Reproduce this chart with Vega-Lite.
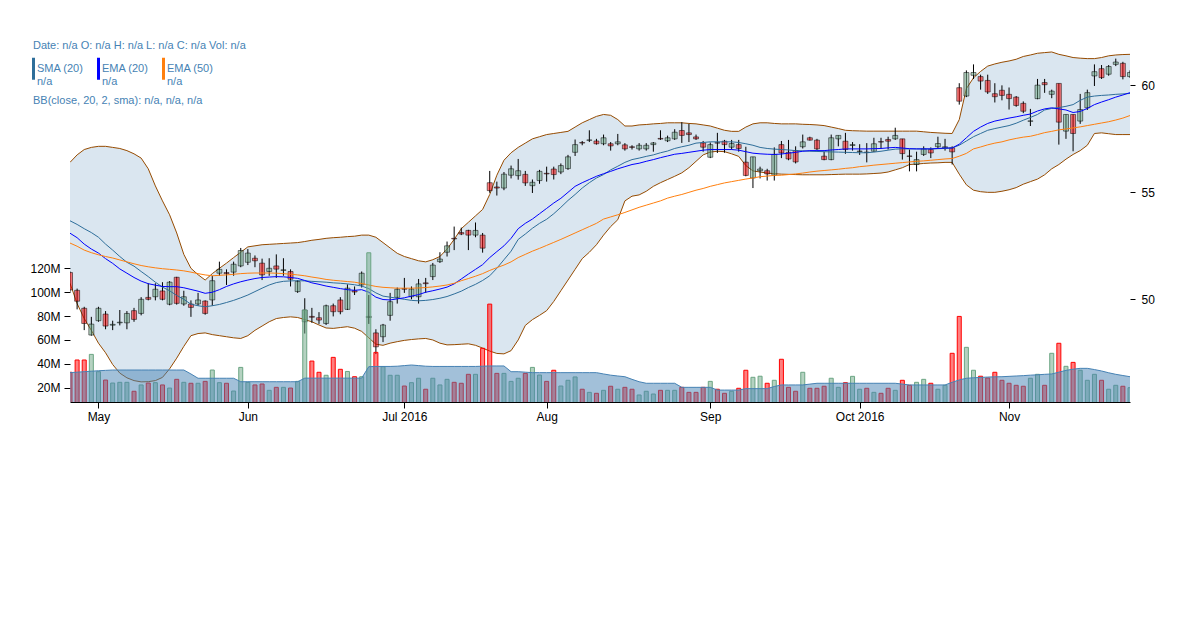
{
"$schema": "https://vega.github.io/schema/vega-lite/v6.json",
"width": 1060,
"height": 362,
"autosize": "none",
"padding": {"left": 70, "top": 40, "right": 70, "bottom": 228},
"background": "white",
"config": {"view": {"stroke": null}, "font": "Liberation Sans", "axis": {"grid": false, "labelFont": "Liberation Sans"}},
"title": {"text": "Date: n/a O: n/a H: n/a L: n/a C: n/a Vol: n/a", "subtitle": "BB(close, 20, 2, sma): n/a, n/a, n/a", "anchor": "start", "frame": "group", "orient": "top", "offset": 0, "dx": -37, "dy": 66, "baseline": "top", "font": "Liberation Sans", "fontSize": 11, "fontWeight": "normal", "color": "#4682B4", "subtitleFont": "Liberation Sans", "subtitleFontSize": 11, "subtitleColor": "#4682B4", "subtitlePadding": 44},
"data": {"values": [
{"d":"2016-04-26","o":51.25,"h":51.3,"l":50.35,"c":50.44,"v":32900000,"sma":53.67,"e20":53.09,"e50":52.63,"bu":56.4,"bl":50.75,"vs":32600000},
{"d":"2016-04-27","o":50.42,"h":50.5,"l":49.53,"c":49.91,"v":43200000,"sma":53.5,"e20":52.88,"e50":52.48,"bu":56.75,"bl":49.8,"vs":33000000},
{"d":"2016-04-28","o":49.58,"h":49.65,"l":48.56,"c":48.87,"v":43200000,"sma":53.3,"e20":52.58,"e50":52.3,"bu":57.0,"bl":49.1,"vs":33400000},
{"d":"2016-04-29","o":48.33,"h":49.18,"l":48.3,"c":48.84,"v":47900000,"sma":53.12,"e20":52.35,"e50":52.18,"bu":57.1,"bl":48.55,"vs":33800000},
{"d":"2016-05-02","o":49.0,"h":49.65,"l":48.95,"c":49.58,"v":33400000,"sma":52.9,"e20":52.16,"e50":52.08,"bu":57.15,"bl":47.95,"vs":34200000},
{"d":"2016-05-03","o":49.31,"h":49.45,"l":48.6,"c":48.75,"v":26400000,"sma":52.58,"e20":51.9,"e50":52.0,"bu":57.15,"bl":47.5,"vs":34500000},
{"d":"2016-05-04","o":48.79,"h":49.0,"l":48.56,"c":48.83,"v":23900000,"sma":52.3,"e20":51.68,"e50":51.93,"bu":57.1,"bl":46.95,"vs":34800000},
{"d":"2016-05-05","o":48.9,"h":49.5,"l":48.78,"c":48.93,"v":24500000,"sma":52.0,"e20":51.42,"e50":51.84,"bu":57.05,"bl":46.55,"vs":34800000},
{"d":"2016-05-06","o":48.9,"h":49.45,"l":48.6,"c":49.34,"v":24500000,"sma":51.73,"e20":51.22,"e50":51.75,"bu":56.95,"bl":46.33,"vs":34800000},
{"d":"2016-05-09","o":49.47,"h":49.6,"l":48.95,"c":49.06,"v":17000000,"sma":51.55,"e20":51.02,"e50":51.66,"bu":56.8,"bl":46.2,"vs":34800000},
{"d":"2016-05-10","o":49.34,"h":50.1,"l":49.25,"c":50.0,"v":22300000,"sma":51.3,"e20":50.85,"e50":51.58,"bu":56.6,"bl":46.14,"vs":34800000},
{"d":"2016-05-11","o":50.09,"h":50.75,"l":49.95,"c":50.0,"v":23900000,"sma":51.06,"e20":50.73,"e50":51.52,"bu":56.1,"bl":46.15,"vs":34800000},
{"d":"2016-05-12","o":50.12,"h":50.75,"l":49.95,"c":50.47,"v":24200000,"sma":50.8,"e20":50.66,"e50":51.47,"bu":55.3,"bl":46.2,"vs":34800000},
{"d":"2016-05-13","o":50.39,"h":50.8,"l":49.95,"c":50.0,"v":22300000,"sma":50.57,"e20":50.6,"e50":51.43,"bu":54.6,"bl":46.35,"vs":34800000},
{"d":"2016-05-16","o":49.77,"h":50.85,"l":49.72,"c":50.8,"v":19700000,"sma":50.4,"e20":50.59,"e50":51.4,"bu":53.95,"bl":46.75,"vs":34800000},
{"d":"2016-05-17","o":51.03,"h":51.05,"l":49.75,"c":49.81,"v":27000000,"sma":50.18,"e20":50.59,"e50":51.37,"bu":53.1,"bl":47.25,"vs":34800000},
{"d":"2016-05-18","o":49.78,"h":50.4,"l":49.7,"c":50.12,"v":24500000,"sma":50.0,"e20":50.54,"e50":51.33,"bu":52.1,"bl":47.8,"vs":34800000},
{"d":"2016-05-19","o":49.78,"h":49.95,"l":49.18,"c":49.62,"v":23700000,"sma":49.77,"e20":50.46,"e50":51.27,"bu":51.45,"bl":48.3,"vs":31500000},
{"d":"2016-05-20","o":49.78,"h":50.3,"l":49.7,"c":49.97,"v":23700000,"sma":49.7,"e20":50.38,"e50":51.2,"bu":51.15,"bl":48.4,"vs":27900000},
{"d":"2016-05-23","o":49.92,"h":49.95,"l":49.28,"c":49.34,"v":25300000,"sma":49.65,"e20":50.28,"e50":51.14,"bu":50.9,"bl":48.43,"vs":27900000},
{"d":"2016-05-24","o":49.97,"h":51.1,"l":49.7,"c":50.87,"v":34800000,"sma":49.7,"e20":50.33,"e50":51.1,"bu":51.2,"bl":48.35,"vs":27900000},
{"d":"2016-05-25","o":51.22,"h":51.76,"l":51.1,"c":51.4,"v":24200000,"sma":49.76,"e20":50.45,"e50":51.12,"bu":51.45,"bl":48.3,"vs":27900000},
{"d":"2016-05-26","o":51.25,"h":51.4,"l":50.67,"c":51.2,"v":23700000,"sma":49.85,"e20":50.6,"e50":51.14,"bu":51.69,"bl":48.25,"vs":27900000},
{"d":"2016-05-27","o":51.27,"h":51.76,"l":51.1,"c":51.64,"v":17200000,"sma":49.95,"e20":50.72,"e50":51.17,"bu":51.95,"bl":48.2,"vs":27900000},
{"d":"2016-05-31","o":51.56,"h":52.4,"l":51.5,"c":52.28,"v":37000000,"sma":50.07,"e20":50.82,"e50":51.2,"bu":52.2,"bl":48.17,"vs":25000000},
{"d":"2016-06-01","o":51.73,"h":52.35,"l":51.6,"c":52.16,"v":24500000,"sma":50.2,"e20":50.9,"e50":51.22,"bu":52.45,"bl":48.3,"vs":25000000},
{"d":"2016-06-02","o":51.92,"h":52.05,"l":51.5,"c":51.8,"v":22300000,"sma":50.36,"e20":50.97,"e50":51.23,"bu":52.5,"bl":48.55,"vs":25000000},
{"d":"2016-06-03","o":51.69,"h":51.9,"l":50.9,"c":51.14,"v":23100000,"sma":50.52,"e20":51.02,"e50":51.23,"bu":52.55,"bl":48.75,"vs":25000000},
{"d":"2016-06-06","o":51.3,"h":51.92,"l":51.1,"c":51.45,"v":17800000,"sma":50.67,"e20":51.04,"e50":51.23,"bu":52.57,"bl":48.95,"vs":25000000},
{"d":"2016-06-07","o":51.56,"h":52.1,"l":51.0,"c":51.41,"v":20300000,"sma":50.78,"e20":51.06,"e50":51.22,"bu":52.59,"bl":49.1,"vs":25000000},
{"d":"2016-06-08","o":51.35,"h":51.92,"l":51.1,"c":51.38,"v":20300000,"sma":50.84,"e20":51.05,"e50":51.2,"bu":52.61,"bl":49.15,"vs":25000000},
{"d":"2016-06-09","o":51.3,"h":51.4,"l":50.6,"c":50.94,"v":19700000,"sma":50.86,"e20":51.02,"e50":51.17,"bu":52.63,"bl":49.18,"vs":25000000},
{"d":"2016-06-10","o":50.36,"h":50.9,"l":50.3,"c":50.83,"v":25300000,"sma":50.87,"e20":50.98,"e50":51.14,"bu":52.65,"bl":49.15,"vs":25000000},
{"d":"2016-06-13","o":48.95,"h":50.05,"l":48.4,"c":49.5,"v":85000000,"sma":50.86,"e20":50.88,"e50":51.1,"bu":52.7,"bl":49.05,"vs":28000000},
{"d":"2016-06-14","o":49.2,"h":49.6,"l":48.9,"c":49.16,"v":42300000,"sma":50.84,"e20":50.77,"e50":51.04,"bu":52.76,"bl":48.95,"vs":28000000},
{"d":"2016-06-15","o":49.14,"h":49.4,"l":48.85,"c":49.03,"v":32900000,"sma":50.82,"e20":50.7,"e50":50.99,"bu":52.8,"bl":48.8,"vs":28000000},
{"d":"2016-06-16","o":48.87,"h":49.75,"l":48.8,"c":49.7,"v":30400000,"sma":50.8,"e20":50.62,"e50":50.93,"bu":52.85,"bl":48.66,"vs":28000000},
{"d":"2016-06-17","o":49.7,"h":49.8,"l":49.2,"c":49.42,"v":45400000,"sma":50.77,"e20":50.56,"e50":50.89,"bu":52.88,"bl":48.64,"vs":28000000},
{"d":"2016-06-20","o":49.97,"h":50.1,"l":49.3,"c":49.42,"v":35400000,"sma":50.75,"e20":50.5,"e50":50.86,"bu":52.9,"bl":48.68,"vs":28000000},
{"d":"2016-06-21","o":49.53,"h":50.7,"l":49.5,"c":50.52,"v":33600000,"sma":50.72,"e20":50.45,"e50":50.83,"bu":52.93,"bl":48.72,"vs":28000000},
{"d":"2016-06-22","o":50.4,"h":50.6,"l":50.2,"c":50.34,"v":29200000,"sma":50.68,"e20":50.42,"e50":50.8,"bu":52.95,"bl":48.65,"vs":28000000},
{"d":"2016-06-23","o":50.67,"h":51.3,"l":50.55,"c":51.22,"v":29200000,"sma":50.62,"e20":50.45,"e50":50.74,"bu":53.0,"bl":48.5,"vs":28000000},
{"d":"2016-06-24","o":49.15,"h":50.2,"l":48.85,"c":49.2,"v":133000000,"sma":50.5,"e20":50.33,"e50":50.67,"bu":53.0,"bl":48.2,"vs":37600000},
{"d":"2016-06-27","o":48.43,"h":48.6,"l":47.44,"c":47.78,"v":49600000,"sma":50.3,"e20":50.1,"e50":50.6,"bu":52.9,"bl":47.9,"vs":37800000},
{"d":"2016-06-28","o":48.25,"h":48.85,"l":48.0,"c":48.8,"v":37600000,"sma":50.15,"e20":49.99,"e50":50.56,"bu":52.65,"bl":47.85,"vs":37800000},
{"d":"2016-06-29","o":49.25,"h":50.3,"l":49.0,"c":49.89,"v":30400000,"sma":50.1,"e20":49.97,"e50":50.54,"bu":52.4,"bl":47.95,"vs":37800000},
{"d":"2016-06-30","o":50.09,"h":50.55,"l":49.8,"c":50.47,"v":30400000,"sma":50.05,"e20":50.02,"e50":50.52,"bu":52.15,"bl":48.02,"vs":38000000},
{"d":"2016-07-01","o":50.5,"h":51.0,"l":50.3,"c":50.47,"v":21400000,"sma":50.0,"e20":50.07,"e50":50.52,"bu":52.0,"bl":48.08,"vs":38500000},
{"d":"2016-07-05","o":50.12,"h":50.6,"l":50.0,"c":50.48,"v":24200000,"sma":49.95,"e20":50.15,"e50":50.52,"bu":51.9,"bl":48.12,"vs":39000000},
{"d":"2016-07-06","o":50.12,"h":50.95,"l":49.8,"c":50.72,"v":27900000,"sma":49.93,"e20":50.22,"e50":50.53,"bu":51.8,"bl":48.15,"vs":38500000},
{"d":"2016-07-07","o":50.77,"h":51.0,"l":50.3,"c":50.73,"v":18700000,"sma":49.95,"e20":50.33,"e50":50.55,"bu":51.75,"bl":48.17,"vs":38000000},
{"d":"2016-07-08","o":51.06,"h":51.7,"l":50.9,"c":51.6,"v":27900000,"sma":49.99,"e20":50.4,"e50":50.58,"bu":51.85,"bl":48.1,"vs":37800000},
{"d":"2016-07-11","o":51.76,"h":52.2,"l":51.7,"c":51.88,"v":22300000,"sma":50.05,"e20":50.48,"e50":50.62,"bu":52.0,"bl":47.95,"vs":37800000},
{"d":"2016-07-12","o":52.2,"h":52.7,"l":52.0,"c":52.5,"v":27000000,"sma":50.13,"e20":50.57,"e50":50.67,"bu":52.35,"bl":47.87,"vs":37800000},
{"d":"2016-07-13","o":52.85,"h":53.4,"l":52.3,"c":52.82,"v":24500000,"sma":50.25,"e20":50.72,"e50":50.75,"bu":52.8,"bl":47.88,"vs":37800000},
{"d":"2016-07-14","o":53.12,"h":53.35,"l":53.0,"c":53.05,"v":23700000,"sma":50.38,"e20":50.95,"e50":50.87,"bu":53.3,"bl":47.9,"vs":37800000},
{"d":"2016-07-15","o":53.22,"h":53.25,"l":52.3,"c":53.0,"v":31200000,"sma":50.55,"e20":51.18,"e50":50.97,"bu":53.6,"bl":47.92,"vs":37800000},
{"d":"2016-07-18","o":53.0,"h":53.59,"l":52.9,"c":53.22,"v":31200000,"sma":50.7,"e20":51.4,"e50":51.08,"bu":53.9,"bl":47.85,"vs":37800000},
{"d":"2016-07-19","o":53.0,"h":53.1,"l":52.18,"c":52.39,"v":53000000,"sma":50.88,"e20":51.62,"e50":51.2,"bu":54.2,"bl":47.72,"vs":38000000},
{"d":"2016-07-20","o":55.45,"h":56.0,"l":54.98,"c":55.08,"v":90000000,"sma":51.1,"e20":51.95,"e50":51.35,"bu":54.9,"bl":47.58,"vs":38200000},
{"d":"2016-07-21","o":55.25,"h":55.5,"l":54.85,"c":55.2,"v":32000000,"sma":51.45,"e20":52.23,"e50":51.48,"bu":55.8,"bl":47.47,"vs":38200000},
{"d":"2016-07-22","o":55.2,"h":55.95,"l":55.1,"c":55.85,"v":32000000,"sma":51.85,"e20":52.5,"e50":51.6,"bu":56.5,"bl":47.45,"vs":38200000},
{"d":"2016-07-25","o":55.8,"h":56.25,"l":55.65,"c":56.1,"v":25300000,"sma":52.25,"e20":52.85,"e50":51.75,"bu":56.85,"bl":47.6,"vs":33400000},
{"d":"2016-07-26","o":55.78,"h":56.56,"l":55.59,"c":56.01,"v":27900000,"sma":52.8,"e20":53.3,"e50":51.95,"bu":57.1,"bl":48.1,"vs":33400000},
{"d":"2016-07-27","o":55.84,"h":56.0,"l":55.3,"c":55.44,"v":32000000,"sma":53.05,"e20":53.55,"e50":52.1,"bu":57.3,"bl":48.78,"vs":33000000},
{"d":"2016-07-28","o":55.31,"h":55.6,"l":54.97,"c":55.47,"v":37000000,"sma":53.32,"e20":53.75,"e50":52.25,"bu":57.5,"bl":49.05,"vs":32600000},
{"d":"2016-07-29","o":55.55,"h":56.05,"l":55.4,"c":55.98,"v":30600000,"sma":53.55,"e20":54.0,"e50":52.38,"bu":57.6,"bl":49.25,"vs":32600000},
{"d":"2016-08-01","o":55.89,"h":56.2,"l":55.5,"c":55.86,"v":25300000,"sma":53.74,"e20":54.25,"e50":52.52,"bu":57.7,"bl":49.47,"vs":32600000},
{"d":"2016-08-02","o":56.09,"h":56.2,"l":55.6,"c":55.83,"v":34600000,"sma":54.0,"e20":54.5,"e50":52.66,"bu":57.75,"bl":49.9,"vs":32600000},
{"d":"2016-08-03","o":55.95,"h":56.35,"l":55.85,"c":56.25,"v":21400000,"sma":54.3,"e20":54.72,"e50":52.8,"bu":57.8,"bl":50.4,"vs":32600000},
{"d":"2016-08-04","o":56.11,"h":56.75,"l":56.05,"c":56.66,"v":26200000,"sma":54.62,"e20":55.0,"e50":52.95,"bu":57.85,"bl":50.9,"vs":32600000},
{"d":"2016-08-05","o":56.87,"h":57.47,"l":56.7,"c":57.23,"v":29000000,"sma":54.9,"e20":55.28,"e50":53.1,"bu":58.05,"bl":51.4,"vs":32600000},
{"d":"2016-08-08","o":57.33,"h":57.4,"l":57.2,"c":57.3,"v":18700000,"sma":55.2,"e20":55.45,"e50":53.25,"bu":58.25,"bl":51.9,"vs":32600000},
{"d":"2016-08-09","o":57.43,"h":57.9,"l":57.35,"c":57.45,"v":16100000,"sma":55.45,"e20":55.6,"e50":53.4,"bu":58.4,"bl":52.2,"vs":32600000},
{"d":"2016-08-10","o":57.4,"h":57.5,"l":57.23,"c":57.27,"v":15300000,"sma":55.67,"e20":55.75,"e50":53.55,"bu":58.55,"bl":52.55,"vs":32600000},
{"d":"2016-08-11","o":57.27,"h":57.7,"l":57.2,"c":57.55,"v":17800000,"sma":55.83,"e20":55.87,"e50":53.75,"bu":58.64,"bl":53.0,"vs":31500000},
{"d":"2016-08-12","o":57.27,"h":57.35,"l":56.95,"c":57.17,"v":21200000,"sma":56.05,"e20":55.98,"e50":53.85,"bu":58.6,"bl":53.4,"vs":30500000},
{"d":"2016-08-15","o":57.27,"h":57.73,"l":57.2,"c":57.36,"v":18700000,"sma":56.22,"e20":56.1,"e50":53.95,"bu":58.4,"bl":53.72,"vs":29800000},
{"d":"2016-08-16","o":57.22,"h":57.3,"l":56.95,"c":57.03,"v":20300000,"sma":56.4,"e20":56.2,"e50":54.06,"bu":58.1,"bl":54.6,"vs":29200000},
{"d":"2016-08-17","o":57.13,"h":57.2,"l":57.0,"c":57.1,"v":18700000,"sma":56.53,"e20":56.3,"e50":54.18,"bu":58.1,"bl":54.82,"vs":27000000},
{"d":"2016-08-18","o":57.03,"h":57.3,"l":56.95,"c":57.2,"v":13900000,"sma":56.6,"e20":56.36,"e50":54.3,"bu":58.15,"bl":54.88,"vs":25000000},
{"d":"2016-08-19","o":57.03,"h":57.3,"l":56.95,"c":57.2,"v":17000000,"sma":56.68,"e20":56.45,"e50":54.4,"bu":58.17,"bl":55.05,"vs":23700000},
{"d":"2016-08-22","o":57.23,"h":57.35,"l":56.9,"c":57.31,"v":14700000,"sma":56.75,"e20":56.53,"e50":54.5,"bu":58.2,"bl":55.28,"vs":23700000},
{"d":"2016-08-23","o":57.52,"h":57.9,"l":57.45,"c":57.49,"v":17800000,"sma":56.85,"e20":56.62,"e50":54.6,"bu":58.22,"bl":55.45,"vs":23700000},
{"d":"2016-08-24","o":57.41,"h":57.65,"l":57.35,"c":57.55,"v":17800000,"sma":56.93,"e20":56.7,"e50":54.73,"bu":58.25,"bl":55.6,"vs":23700000},
{"d":"2016-08-25","o":57.5,"h":57.95,"l":57.45,"c":57.81,"v":17800000,"sma":57.05,"e20":56.78,"e50":54.82,"bu":58.25,"bl":55.75,"vs":23700000},
{"d":"2016-08-26","o":57.89,"h":58.28,"l":57.31,"c":57.66,"v":20300000,"sma":57.13,"e20":56.82,"e50":54.9,"bu":58.25,"bl":55.91,"vs":20300000},
{"d":"2016-08-29","o":57.78,"h":58.2,"l":57.35,"c":57.7,"v":16100000,"sma":57.2,"e20":56.87,"e50":55.0,"bu":58.22,"bl":56.15,"vs":20300000},
{"d":"2016-08-30","o":57.59,"h":57.7,"l":57.45,"c":57.5,"v":16100000,"sma":57.3,"e20":56.92,"e50":55.1,"bu":58.2,"bl":56.45,"vs":20300000},
{"d":"2016-08-31","o":57.31,"h":57.4,"l":56.9,"c":57.11,"v":20300000,"sma":57.33,"e20":56.97,"e50":55.18,"bu":58.15,"bl":56.75,"vs":20300000},
{"d":"2016-09-01","o":56.64,"h":57.33,"l":56.6,"c":57.23,"v":25300000,"sma":57.36,"e20":57.0,"e50":55.28,"bu":58.1,"bl":56.88,"vs":20300000},
{"d":"2016-09-02","o":57.32,"h":57.78,"l":56.84,"c":57.3,"v":18700000,"sma":57.36,"e20":57.0,"e50":55.36,"bu":58.0,"bl":56.92,"vs":18000000},
{"d":"2016-09-06","o":57.39,"h":57.45,"l":56.85,"c":57.23,"v":15300000,"sma":57.36,"e20":57.0,"e50":55.44,"bu":57.9,"bl":56.9,"vs":18000000},
{"d":"2016-09-07","o":57.11,"h":57.45,"l":57.0,"c":57.28,"v":17000000,"sma":57.36,"e20":57.0,"e50":55.5,"bu":57.85,"bl":56.8,"vs":18000000},
{"d":"2016-09-08","o":57.23,"h":57.45,"l":56.9,"c":57.05,"v":19500000,"sma":57.33,"e20":56.97,"e50":55.56,"bu":57.85,"bl":56.68,"vs":18000000},
{"d":"2016-09-09","o":56.41,"h":57.13,"l":55.75,"c":55.79,"v":34600000,"sma":57.27,"e20":56.9,"e50":55.62,"bu":58.05,"bl":56.25,"vs":19200000},
{"d":"2016-09-12","o":55.67,"h":56.66,"l":55.2,"c":56.66,"v":28700000,"sma":57.2,"e20":56.83,"e50":55.67,"bu":58.2,"bl":56.0,"vs":19200000},
{"d":"2016-09-13","o":56.01,"h":56.2,"l":55.65,"c":56.09,"v":29600000,"sma":57.1,"e20":56.8,"e50":55.73,"bu":58.25,"bl":55.95,"vs":19200000},
{"d":"2016-09-14","o":56.01,"h":56.1,"l":55.55,"c":55.86,"v":23700000,"sma":57.05,"e20":56.78,"e50":55.76,"bu":58.25,"bl":55.9,"vs":19200000},
{"d":"2016-09-15","o":55.8,"h":57.1,"l":55.55,"c":56.77,"v":26200000,"sma":57.02,"e20":56.77,"e50":55.79,"bu":58.22,"bl":55.87,"vs":21000000},
{"d":"2016-09-16","o":57.23,"h":57.4,"l":56.6,"c":56.84,"v":43800000,"sma":57.0,"e20":56.79,"e50":55.8,"bu":58.2,"bl":55.85,"vs":22300000},
{"d":"2016-09-19","o":56.87,"h":57.45,"l":56.5,"c":56.56,"v":20300000,"sma":56.98,"e20":56.83,"e50":55.83,"bu":58.2,"bl":55.84,"vs":22300000},
{"d":"2016-09-20","o":56.95,"h":57.15,"l":56.35,"c":56.42,"v":17000000,"sma":56.95,"e20":56.87,"e50":55.86,"bu":58.2,"bl":55.83,"vs":22300000},
{"d":"2016-09-21","o":57.13,"h":57.7,"l":57.05,"c":57.36,"v":32900000,"sma":56.94,"e20":56.92,"e50":55.9,"bu":58.18,"bl":55.82,"vs":22300000},
{"d":"2016-09-22","o":57.55,"h":57.6,"l":57.42,"c":57.44,"v":19500000,"sma":56.92,"e20":56.95,"e50":55.95,"bu":58.17,"bl":55.82,"vs":23000000},
{"d":"2016-09-23","o":57.44,"h":57.5,"l":56.98,"c":57.03,"v":19500000,"sma":56.91,"e20":56.95,"e50":55.99,"bu":58.15,"bl":55.82,"vs":23700000},
{"d":"2016-09-26","o":56.69,"h":56.9,"l":56.5,"c":56.53,"v":21200000,"sma":56.9,"e20":56.95,"e50":56.02,"bu":58.12,"bl":55.82,"vs":23700000},
{"d":"2016-09-27","o":56.53,"h":57.7,"l":56.5,"c":57.55,"v":27900000,"sma":56.89,"e20":56.98,"e50":56.05,"bu":58.05,"bl":55.83,"vs":23700000},
{"d":"2016-09-28","o":57.5,"h":57.66,"l":57.15,"c":57.66,"v":20300000,"sma":56.88,"e20":57.0,"e50":56.08,"bu":57.98,"bl":55.84,"vs":23700000},
{"d":"2016-09-29","o":57.39,"h":57.78,"l":56.8,"c":57.0,"v":24200000,"sma":56.87,"e20":57.03,"e50":56.12,"bu":57.9,"bl":55.85,"vs":23700000},
{"d":"2016-09-30","o":57.19,"h":57.35,"l":56.95,"c":57.23,"v":29500000,"sma":56.86,"e20":57.03,"e50":56.15,"bu":57.88,"bl":55.85,"vs":23700000},
{"d":"2016-10-03","o":56.91,"h":57.25,"l":56.75,"c":56.93,"v":18700000,"sma":56.85,"e20":57.03,"e50":56.2,"bu":57.87,"bl":55.85,"vs":23700000},
{"d":"2016-10-04","o":56.88,"h":57.3,"l":56.4,"c":56.86,"v":19500000,"sma":56.85,"e20":57.03,"e50":56.23,"bu":57.86,"bl":55.86,"vs":23700000},
{"d":"2016-10-05","o":56.92,"h":57.55,"l":56.9,"c":57.27,"v":16100000,"sma":56.88,"e20":57.04,"e50":56.27,"bu":57.86,"bl":55.88,"vs":23700000},
{"d":"2016-10-06","o":57.37,"h":57.55,"l":57.05,"c":57.35,"v":15300000,"sma":56.92,"e20":57.05,"e50":56.3,"bu":57.86,"bl":55.9,"vs":23700000},
{"d":"2016-10-07","o":57.47,"h":57.6,"l":57.0,"c":57.39,"v":19500000,"sma":56.97,"e20":57.08,"e50":56.33,"bu":57.86,"bl":55.95,"vs":23700000},
{"d":"2016-10-10","o":57.5,"h":58.02,"l":57.45,"c":57.66,"v":17800000,"sma":57.02,"e20":57.1,"e50":56.36,"bu":57.86,"bl":56.05,"vs":23700000},
{"d":"2016-10-11","o":57.5,"h":57.5,"l":56.53,"c":56.81,"v":26200000,"sma":57.03,"e20":57.07,"e50":56.39,"bu":57.86,"bl":56.15,"vs":23000000},
{"d":"2016-10-12","o":56.7,"h":57.0,"l":55.98,"c":56.68,"v":22000000,"sma":57.03,"e20":57.04,"e50":56.42,"bu":57.86,"bl":56.3,"vs":22300000},
{"d":"2016-10-13","o":56.3,"h":56.9,"l":55.98,"c":56.53,"v":24500000,"sma":57.03,"e20":57.03,"e50":56.45,"bu":57.86,"bl":56.32,"vs":22300000},
{"d":"2016-10-14","o":56.77,"h":57.15,"l":56.7,"c":57.03,"v":27000000,"sma":57.03,"e20":57.03,"e50":56.47,"bu":57.83,"bl":56.35,"vs":22300000},
{"d":"2016-10-17","o":57.0,"h":57.1,"l":56.6,"c":56.84,"v":23700000,"sma":57.03,"e20":57.03,"e50":56.5,"bu":57.8,"bl":56.37,"vs":22300000},
{"d":"2016-10-18","o":57.13,"h":57.6,"l":57.05,"c":57.28,"v":18700000,"sma":57.04,"e20":57.05,"e50":56.53,"bu":57.78,"bl":56.38,"vs":22300000},
{"d":"2016-10-19","o":57.08,"h":57.5,"l":56.95,"c":57.13,"v":22000000,"sma":57.05,"e20":57.07,"e50":56.56,"bu":57.76,"bl":56.4,"vs":22300000},
{"d":"2016-10-20","o":57.08,"h":57.15,"l":56.3,"c":56.89,"v":48800000,"sma":57.08,"e20":57.07,"e50":56.58,"bu":57.75,"bl":56.4,"vs":24500000},
{"d":"2016-10-21","o":59.89,"h":60.1,"l":59.1,"c":59.26,"v":79700000,"sma":57.2,"e20":57.25,"e50":56.69,"bu":58.4,"bl":55.85,"vs":26500000},
{"d":"2016-10-24","o":59.5,"h":60.7,"l":59.45,"c":60.6,"v":53800000,"sma":57.4,"e20":57.55,"e50":56.82,"bu":59.85,"bl":55.35,"vs":27900000},
{"d":"2016-10-25","o":60.47,"h":60.98,"l":60.3,"c":60.6,"v":34600000,"sma":57.6,"e20":57.85,"e50":57.03,"bu":60.35,"bl":55.1,"vs":28300000},
{"d":"2016-10-26","o":60.41,"h":60.5,"l":59.8,"c":60.2,"v":29600000,"sma":57.75,"e20":58.05,"e50":57.12,"bu":60.65,"bl":55.03,"vs":28600000},
{"d":"2016-10-27","o":60.23,"h":60.5,"l":59.6,"c":59.69,"v":28100000,"sma":57.9,"e20":58.22,"e50":57.22,"bu":60.9,"bl":55.0,"vs":28900000},
{"d":"2016-10-28","o":59.61,"h":60.1,"l":59.2,"c":59.47,"v":32900000,"sma":57.98,"e20":58.33,"e50":57.3,"bu":61.0,"bl":55.0,"vs":29100000},
{"d":"2016-10-31","o":59.77,"h":60.0,"l":59.3,"c":59.53,"v":26200000,"sma":58.05,"e20":58.4,"e50":57.36,"bu":61.08,"bl":55.05,"vs":29200000},
{"d":"2016-11-01","o":59.58,"h":59.9,"l":58.87,"c":59.38,"v":23700000,"sma":58.12,"e20":58.47,"e50":57.45,"bu":61.14,"bl":55.12,"vs":29500000},
{"d":"2016-11-02","o":59.45,"h":59.5,"l":59.0,"c":59.06,"v":22000000,"sma":58.23,"e20":58.53,"e50":57.52,"bu":61.22,"bl":55.22,"vs":29800000},
{"d":"2016-11-03","o":59.16,"h":59.25,"l":58.7,"c":58.79,"v":21200000,"sma":58.37,"e20":58.6,"e50":57.58,"bu":61.35,"bl":55.38,"vs":30100000},
{"d":"2016-11-04","o":58.32,"h":58.9,"l":58.1,"c":58.34,"v":27900000,"sma":58.5,"e20":58.66,"e50":57.62,"bu":61.42,"bl":55.5,"vs":30500000},
{"d":"2016-11-07","o":59.38,"h":60.3,"l":59.35,"c":60.01,"v":31200000,"sma":58.64,"e20":58.8,"e50":57.7,"bu":61.5,"bl":55.62,"vs":30800000},
{"d":"2016-11-08","o":60.13,"h":60.3,"l":59.65,"c":60.03,"v":22000000,"sma":58.85,"e20":58.9,"e50":57.79,"bu":61.53,"bl":55.82,"vs":31200000},
{"d":"2016-11-09","o":59.58,"h":59.8,"l":59.4,"c":59.73,"v":48800000,"sma":58.92,"e20":58.95,"e50":57.85,"bu":61.56,"bl":56.1,"vs":31500000},
{"d":"2016-11-10","o":60.09,"h":60.09,"l":57.23,"c":58.28,"v":57200000,"sma":58.96,"e20":58.9,"e50":57.92,"bu":61.45,"bl":56.3,"vs":33000000},
{"d":"2016-11-11","o":57.86,"h":58.64,"l":57.5,"c":58.64,"v":37900000,"sma":59.02,"e20":58.85,"e50":57.96,"bu":61.38,"bl":56.55,"vs":34500000},
{"d":"2016-11-14","o":58.64,"h":58.64,"l":56.92,"c":57.75,"v":41200000,"sma":59.1,"e20":58.73,"e50":58.01,"bu":61.3,"bl":56.77,"vs":35500000},
{"d":"2016-11-15","o":58.33,"h":59.6,"l":58.2,"c":58.87,"v":34600000,"sma":59.3,"e20":58.78,"e50":58.06,"bu":61.27,"bl":56.95,"vs":36200000},
{"d":"2016-11-16","o":58.95,"h":59.8,"l":58.85,"c":59.66,"v":26200000,"sma":59.45,"e20":58.92,"e50":58.12,"bu":61.25,"bl":57.2,"vs":36200000},
{"d":"2016-11-17","o":60.44,"h":60.98,"l":59.97,"c":60.64,"v":31200000,"sma":59.5,"e20":59.1,"e50":58.18,"bu":61.25,"bl":57.75,"vs":35200000},
{"d":"2016-11-18","o":60.78,"h":60.95,"l":60.3,"c":60.36,"v":26200000,"sma":59.53,"e20":59.22,"e50":58.24,"bu":61.3,"bl":57.78,"vs":34000000},
{"d":"2016-11-21","o":60.52,"h":60.95,"l":60.45,"c":60.88,"v":18700000,"sma":59.55,"e20":59.33,"e50":58.3,"bu":61.38,"bl":57.74,"vs":32500000},
{"d":"2016-11-22","o":60.98,"h":61.25,"l":60.9,"c":61.09,"v":22000000,"sma":59.58,"e20":59.45,"e50":58.38,"bu":61.42,"bl":57.7,"vs":31200000},
{"d":"2016-11-23","o":61.03,"h":61.1,"l":60.28,"c":60.41,"v":21200000,"sma":59.6,"e20":59.55,"e50":58.47,"bu":61.44,"bl":57.7,"vs":30200000},
{"d":"2016-11-25","o":60.41,"h":60.7,"l":60.35,"c":60.6,"v":20000000,"sma":59.62,"e20":59.66,"e50":58.59,"bu":61.45,"bl":57.7,"vs":29200000}
]},
"encoding": {
  "x": {"field": "d", "type": "ordinal", "scale": {"type": "point", "padding": 0},
        "axis": {"title": null, "values": ["2016-05-02","2016-06-01","2016-07-01","2016-08-01","2016-09-01","2016-10-03","2016-11-01"],
                 "labelExpr": "datum.value == '2016-05-02' ? 'May' : datum.value == '2016-06-01' ? 'Jun' : datum.value == '2016-07-01' ? 'Jul 2016' : datum.value == '2016-08-01' ? 'Aug' : datum.value == '2016-09-01' ? 'Sep' : datum.value == '2016-10-03' ? 'Oct 2016' : 'Nov'",
                 "labelAngle": 0, "labelFontSize": 12, "labelColor": "#000000", "labelPadding": 3, "tickSize": 6, "tickColor": "#000000", "domainColor": "#000000", "labelFont": "Liberation Sans"}}
},
"layer": [
    {"mark": {"type": "area", "fill": "#4682B4", "fillOpacity": 0.2, "clip": true},
     "encoding": {"y": {"field": "bl", "type": "quantitative", "scale": {"domain": [45.2, 62.12], "nice": false, "zero": false},
                        "axis": {"orient": "right", "title": null, "values": [50, 55, 60], "domain": false, "tickSize": 5, "tickColor": "#000000", "labelColor": "#000000", "labelFontSize": 12, "labelPadding": 6, "labelFont": "Liberation Sans"}},
                  "y2": {"field": "bu"}}},
    {"mark": {"type": "line", "stroke": "#964B00", "strokeWidth": 1, "clip": true},
     "encoding": {"y": {"field": "bu", "type": "quantitative", "scale": {"domain": [45.2, 62.12], "nice": false, "zero": false}, "axis": null}}},
    {"mark": {"type": "line", "stroke": "#964B00", "strokeWidth": 1, "clip": true},
     "encoding": {"y": {"field": "bl", "type": "quantitative", "scale": {"domain": [45.2, 62.12], "nice": false, "zero": false}, "axis": null}}},
    {"mark": {"type": "rule", "stroke": "#000000", "strokeWidth": 1, "clip": true},
     "encoding": {"y": {"field": "l", "type": "quantitative", "scale": {"domain": [45.2, 62.12], "nice": false, "zero": false}, "axis": null},
                  "y2": {"field": "h"}}},
    {"mark": {"type": "bar", "width": 5, "stroke": "#000000", "strokeOpacity": 0.5, "strokeWidth": 1, "fillOpacity": 0.5, "clip": true},
     "encoding": {"y": {"field": "o", "type": "quantitative", "scale": {"domain": [45.2, 62.12], "nice": false, "zero": false}, "axis": null},
                  "y2": {"field": "c"},
                  "fill": {"condition": {"test": "datum.c > datum.o", "value": "#6BA583"}, "value": "#FF0000"}}},
    {"transform": [{"fold": ["sma", "e20", "e50"], "as": ["k", "val"]}],
     "mark": {"type": "line", "strokeWidth": 1, "clip": true},
     "encoding": {"y": {"field": "val", "type": "quantitative", "scale": {"domain": [45.2, 62.12], "nice": false, "zero": false}, "axis": null},
                  "color": {"field": "k", "type": "nominal",
                            "scale": {"domain": ["sma", "e20", "e50"], "range": ["#2E6E9A", "#0000FF", "#FF7F0E"]},
                            "legend": {"orient": "none", "legendX": -43, "legendY": 22, "direction": "horizontal", "title": null,
                                       "symbolType": "M0,-2.2V2.2", "symbolSize": 100, "symbolStrokeWidth": 3,
                                       "labelFont": "Liberation Sans", "labelFontSize": 11, "labelColor": "#4682B4", "labelOffset": -3, "columnPadding": 8, "labelLimit": 0,
                                       "labelExpr": "datum.value == 'sma' ? ['SMA (20)', 'n/a'] : datum.value == 'e20' ? ['EMA (20)', 'n/a'] : ['EMA (50)', 'n/a']"}}}},
    {"mark": {"type": "bar", "width": 4, "fillOpacity": 0.5, "strokeWidth": 1, "clip": true},
     "encoding": {"y": {"field": "v", "type": "quantitative", "scale": {"domain": [8020000, 311200000], "nice": false, "zero": false},
                        "axis": {"orient": "left", "title": null, "values": [20000000, 40000000, 60000000, 80000000, 100000000, 120000000], "format": ".2s", "domain": false, "tickSize": 6, "tickColor": "#000000", "labelColor": "#000000", "labelFontSize": 12, "labelPadding": 4, "labelFont": "Liberation Sans"}},
                  "y2": {"datum": 0},
                  "fill": {"condition": {"test": "datum.c > datum.o", "value": "#6BA583"}, "value": "#FF0000"},
                  "stroke": {"condition": {"test": "datum.c > datum.o", "value": "#6BA583"}, "value": "#FF0000"}}},
    {"mark": {"type": "area", "fill": "#4682B4", "fillOpacity": 0.5, "clip": true},
     "encoding": {"y": {"field": "vs", "type": "quantitative", "scale": {"domain": [8020000, 311200000], "nice": false, "zero": false}, "axis": null},
                  "y2": {"datum": 0}}},
    {"mark": {"type": "line", "stroke": "#4682B4", "strokeWidth": 1, "clip": true},
     "encoding": {"y": {"field": "vs", "type": "quantitative", "scale": {"domain": [8020000, 311200000], "nice": false, "zero": false}, "axis": null}}}
],
"resolve": {"scale": {"y": "independent"}}
}
